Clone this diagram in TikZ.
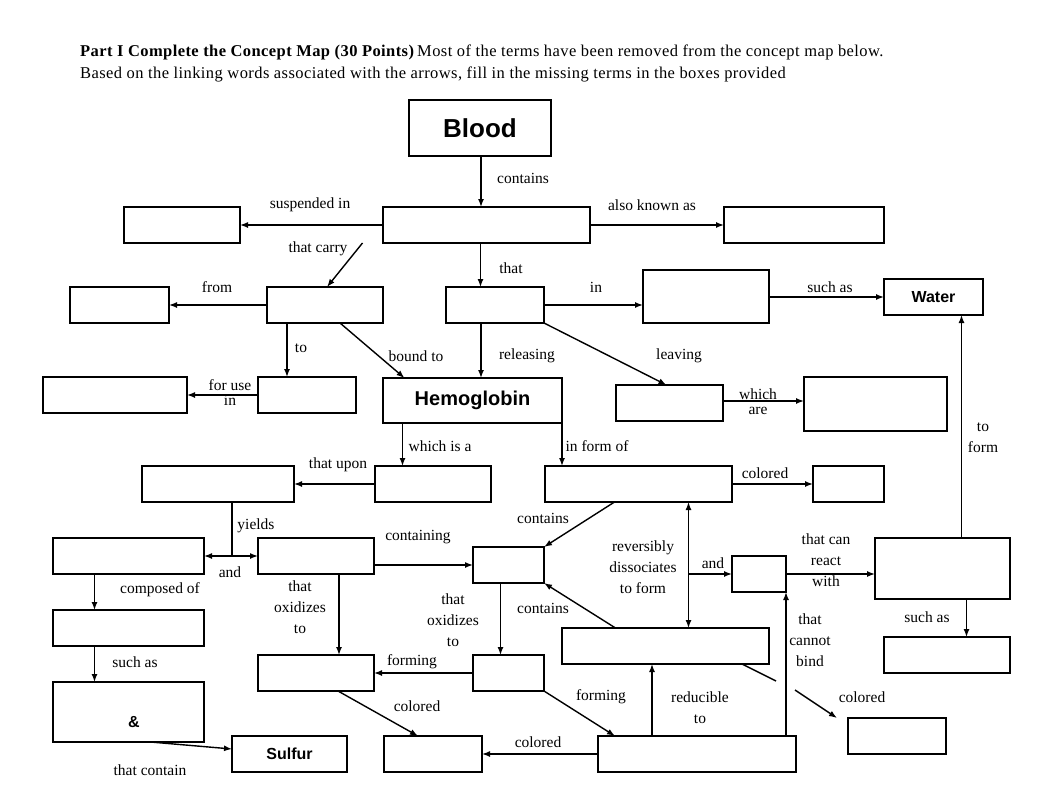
\documentclass[tikz,border=0pt]{standalone}
\usepackage{fontspec}
\setmainfont{Liberation Serif}
\newfontfamily\sansb{Liberation Sans}
\newfontfamily\hdfont{Liberation Serif}[LetterSpace=2.5]
\usetikzlibrary{arrows.meta}
\newcommand\mybox[6]{\node[bx,minimum width={#4-#2},minimum height={#5-#3}] (#1) at ({(#2+#4)/2},{(#3+#5)/2}) {#6};}
\begin{document}
\begin{tikzpicture}[x=1pt,y=-1pt,
  bx/.style={draw,line width=1.4pt,inner sep=0pt,outer sep=0pt,rectangle},
  ar/.style={line width=1.4pt,-{Latex[length=8pt,width=6pt]}},
  lab/.style={font=\fontsize{15.5}{21}\selectfont,align=center,inner sep=0pt},
  big/.style={font=\sansb\bfseries\fontsize{#1}{#1}\selectfont}]
\useasboundingbox[fill=white] (0,0) rectangle (1040,808);
\node[anchor=west,inner sep=0pt,font=\hdfont\fontsize{16.5}{17}\selectfont] (h1) at (80,52) {\textbf{Part I Complete the Concept Map (30 Points)}\,Most of the terms have been removed from the concept map below.};
\node[anchor=west,inner sep=0pt,font=\hdfont\fontsize{16.5}{17}\selectfont] (h2) at (80,74) {Based on the linking words associated with the arrows, fill in the missing terms in the boxes provided};
\mybox{blood}{409}{100}{551}{156}{\sansb\bfseries\fontsize{26}{26}\selectfont Blood}
\mybox{b1}{383}{207}{590}{243}{}
\mybox{sus}{124}{207}{240}{243}{}
\mybox{aka}{724}{207}{884}{243}{}
\mybox{carry}{267}{287}{383}{323}{}
\mybox{that}{446}{287}{544}{323}{}
\mybox{inb}{643}{270}{769}{323}{}
\mybox{water}{884}{279}{983}{315}{\sansb\bfseries\fontsize{16}{16}\selectfont Water}
\mybox{from}{70}{287}{169}{323}{}
\mybox{foruse}{43}{377}{187}{413}{}
\mybox{tob}{258}{377}{356}{413}{}
\mybox{hemo}{383}{378}{562}{423}{\sansb\bfseries\fontsize{20}{20}\selectfont Hemoglobin}
\mybox{leav}{616}{385}{723}{421}{}
\mybox{whare}{804}{377}{947}{431}{}
\mybox{upon}{142}{466}{294}{502}{}
\mybox{whisa}{375}{466}{491}{502}{}
\mybox{inform}{545}{466}{732}{502}{}
\mybox{colsm}{813}{466}{884}{502}{}
\mybox{yl}{53}{538}{204}{574}{}
\mybox{yr}{258}{538}{374}{574}{}
\mybox{cen}{473}{547}{544}{583}{}
\mybox{andb}{732}{556}{786}{592}{}
\mybox{bigr}{875}{538}{1010}{599}{}
\mybox{comp}{53}{610}{204}{646}{}
\mybox{sar}{884}{637}{1010}{673}{}
\mybox{lmid}{562}{628}{769}{664}{}
\mybox{oxl}{258}{655}{374}{691}{}
\mybox{oxc}{473}{655}{544}{691}{}
\mybox{amp}{53}{682}{204}{742}{}
\node[big=16] (ampt) at (134,722) {\&};
\mybox{sulfur}{232}{736}{347}{772}{\sansb\bfseries\fontsize{16}{16}\selectfont Sulfur}
\mybox{colbl}{384}{736}{482}{772}{}
\mybox{bot}{598}{736}{796}{772}{}
\mybox{colr}{848}{718}{946}{754}{}
% arrows
\draw[ar] ([xshift=1pt]blood.south) -- ([xshift=1pt]blood.south |- b1.north);
\draw[ar] (b1.west) -- (sus.east);
\draw[ar] (b1.east) -- (aka.west);
\draw[ar] ([xshift=-124pt]b1.south) -- ([xshift=2pt]carry.north);
\draw[ar] ([xshift=-6pt]b1.south) -- ([xshift=-6pt]b1.south |- that.north);
\draw[ar] (that.east) -- (that.east -| inb.west);
\draw[ar] (inb.east |- water.west) -- (water.west);
\draw[ar] (carry.west) -- (from.east);
\draw[ar] ([xshift=-38pt]carry.south) -- ([xshift=-38pt]carry.south |- tob.north);
\draw[ar] (tob.west) -- (tob.west -| foruse.east);
\draw[ar] ([xshift=15pt]carry.south) -- ([xshift=-68pt]hemo.north);
\draw[ar] ([xshift=-14pt]that.south) -- ([xshift=-14pt]that.south |- hemo.north);
\draw[ar] (that.south east) -- ([xshift=-3pt]leav.north);
\draw[ar] ([yshift=2pt]leav.east) -- ([yshift=2pt]leav.east -| whare.west);
\draw[ar] ([xshift=-70pt]hemo.south) -- ([xshift=-70pt]hemo.south |- whisa.north);
\draw[ar] (hemo.south east) -- (hemo.south east |- inform.north);
\draw[ar] (whisa.west) -- (upon.east);
\draw[ar] (inform.east) -- (colsm.west);
\draw[ar] ([xshift=19pt]bigr.north) -- ([xshift=19pt]bigr.north |- water.south);
\draw[ar] ([xshift=24pt]bigr.south) -- ([xshift=24pt]bigr.south |- sar.north);
\coordinate (yj) at ([xshift=14pt]upon.south |- yl.east);
\draw[line width=1.4pt] ([xshift=14pt]upon.south) -- (yj);
\draw[ar] (yj) -- (yl.east);
\draw[ar] (yj) -- (yr.west);
\draw[ar] (yr.east |- cen.west) -- (cen.west);
\draw[ar] ([xshift=-24pt]inform.south) -- (cen.north east);
\draw[ar,{Latex[length=8pt,width=6pt]}-{Latex[length=8pt,width=6pt]}] ([xshift=50pt]inform.south) -- ([xshift=50pt]inform.south |- lmid.north);
\coordinate (dj) at ([xshift=50pt]inform.south |- andb.west);
\draw[ar] (dj) -- (andb.west);
\draw[ar] (andb.east) -- (andb.east -| bigr.west);
\draw[ar] ([xshift=-10pt]bot.north east) -- ([xshift=-10pt]bot.north east |- andb.south);
\draw[ar] ([xshift=-50pt]lmid.north) -- (cen.south east);
\draw[ar] ([xshift=-8pt]cen.south) -- ([xshift=-8pt]cen.south |- oxc.north);
\draw[ar] ([xshift=23pt]yr.south) -- ([xshift=23pt]yr.south |- oxl.north);
\draw[ar] (oxc.west) -- (oxl.east);
\draw[ar] (oxc.south east) -- ([xshift=17pt]bot.north west);
\draw[ar] ([xshift=-45pt]bot.north) -- ([xshift=-45pt]bot.north |- lmid.south);
\coordinate (cg1) at (776,681);
\coordinate (cg2) at (795,690);
\draw[line width=1.4pt] ([xshift=-27pt]lmid.south east) -- (cg1);
\draw[ar] (cg2) -- ([xshift=-11pt]colr.north west);
\draw[ar] ([xshift=22pt]oxl.south) -- ([xshift=-15pt]colbl.north);
\draw[ar] (bot.west) -- (colbl.east);
\draw[ar] ([xshift=-34pt]yl.south) -- ([xshift=-34pt]yl.south |- comp.north);
\draw[ar] ([xshift=-34pt]comp.south) -- ([xshift=-34pt]comp.south |- amp.north);
\draw[ar] ([xshift=22pt]amp.south) -- ([yshift=5pt]sulfur.west);
% labels
\node[lab] (l1) at (523,178) {contains};
\node[lab] (l2) at (310,205) {suspended in};
\node[lab] (l3) at (652,205) {also known as};
\node[lab] (l4) at (318,249) {that carry};
\node[lab] (l5) at (511,268) {that};
\node[lab] (l6) at (596,287) {in};
\node[lab] (l7) at (830,287) {such as};
\node[lab] (l8) at (217,287) {from};
\node[lab] (l9) at (301,348) {to};
\node[lab] (l10) at (230,393) {for use\\[-6pt]in};
\node[lab] (l11) at (416,356) {bound to};
\node[lab] (l12) at (527,356) {releasing};
\node[lab] (l13) at (679,356) {leaving};
\node[lab] (l14) at (758,402) {which\\[-6pt]are};
\node[lab] (l15) at (440,446) {which is a};
\node[lab] (l16) at (597,446) {in form of};
\node[lab] (l17) at (338,465) {that upon};
\node[lab] (l18) at (765,473) {colored};
\node[lab] (l19) at (983,438) {to\\form};
\node[lab] (l20) at (927,617) {such as};
\node[lab] (l21) at (256,526) {yields};
\node[lab] (l22) at (230,572) {and};
\node[lab] (l23) at (418,537) {containing};
\node[lab] (l24) at (543,518) {contains};
\node[lab] (l25) at (643,567) {reversibly\\dissociates\\to form};
\node[lab] (l26) at (713,563) {and};
\node[lab] (l27) at (826,560) {that can\\react\\with};
\node[lab] (l28) at (810,640) {that\\cannot\\bind};
\node[lab] (l29) at (543,608) {contains};
\node[lab] (l30) at (453,620) {that\\oxidizes\\to};
\node[lab] (l31) at (300,607) {that\\oxidizes\\to};
\node[lab] (l32) at (412,662) {forming};
\node[lab] (l33) at (601,697) {forming};
\node[lab] (l34) at (700,708) {reducible\\to};
\node[lab] (l35) at (862,697) {colored};
\node[lab] (l36) at (417,706) {colored};
\node[lab] (l37) at (538,742) {colored};
\node[lab] (l38) at (160,590) {composed of};
\node[lab] (l39) at (135,662) {such as};
\node[lab] (l40) at (150,770) {that contain};
\end{tikzpicture}
\end{document}
